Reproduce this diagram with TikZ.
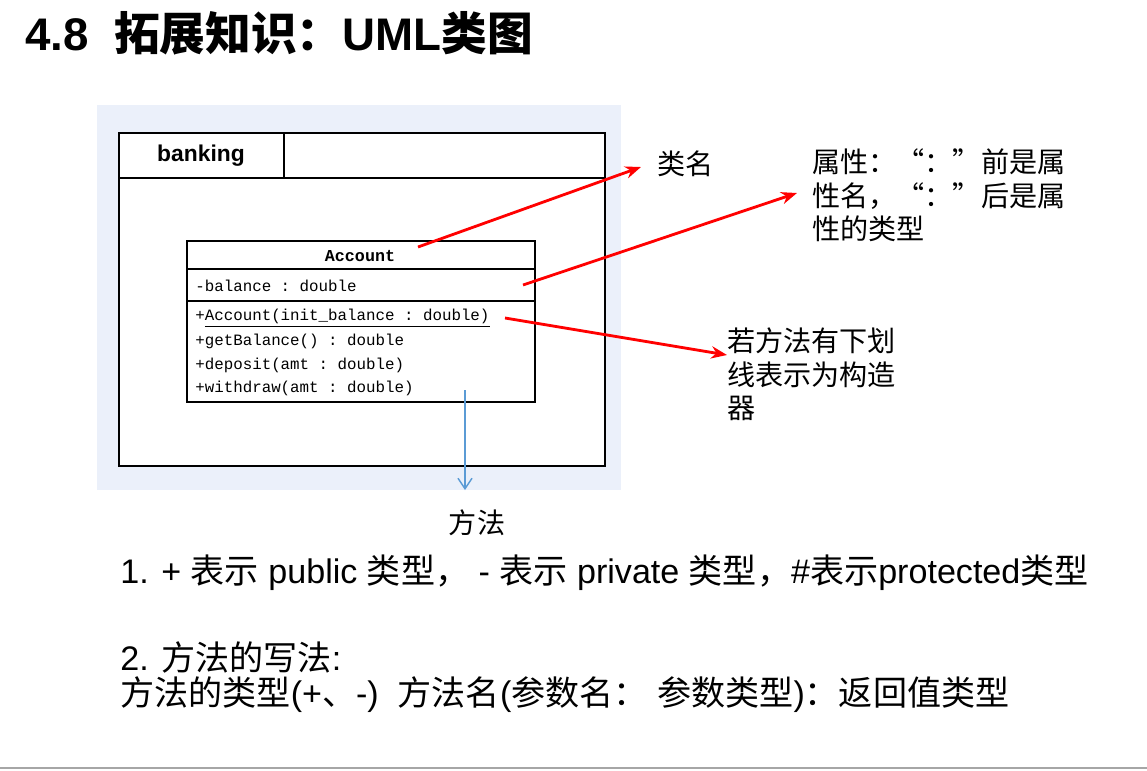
\documentclass[tikz,border=0pt]{standalone}
\usepackage{fontspec}
\setmainfont{Liberation Sans}
\setmonofont{Liberation Mono}
\newfontfamily\cjk{Noto Sans CJK SC}
\usetikzlibrary{arrows.meta}
\definecolor{panelbg}{HTML}{EBF0FA}
\definecolor{methblue}{HTML}{5B9BD5}
\newcommand{\zh}[1]{{\cjk #1}}
\tikzset{
  redarrow/.style={draw=red, line width=1.6pt, -{Stealth[length=9pt,width=7pt]}},
  bluearrow/.style={draw=methblue, line width=0.8pt, -{Straight Barb[length=6pt,width=8pt]}},
  umltext/.style={font=\ttfamily\fontsize{9}{11}\selectfont, anchor=west, inner sep=0pt},
  note/.style={font=\cjk\fontsize{16}{19.3}\selectfont, align=left, anchor=north west, inner sep=0pt},
  body/.style={font=\fontsize{19.4}{22}\selectfont, anchor=west, inner sep=0pt}
}
\begin{document}
\begin{tikzpicture}[x=0.02cm,y=-0.02cm]
  \useasboundingbox (0,0) rectangle (1147,771);
  % Titel
  \node[anchor=west, inner sep=0pt, font=\bfseries\fontsize{26}{28}\selectfont] (title) at (25,33) {4.8\ \ \zh{拓展知识：}UML\zh{类图}};
  % Hintergrund und Paket
  \fill[panelbg] (97,105) rectangle (621,490);
  \draw[fill=white, line width=0.8pt] (119,133) rectangle (605,466);
  \draw[line width=0.8pt] (119,178) -- (605,178) (284,133) -- (284,178);
  \node[font=\bfseries\fontsize{13}{15}\selectfont] (pkg) at (201,156) {banking};
  % Klasse
  \draw[fill=white, line width=0.8pt] (187,241) rectangle (535,402);
  \draw[line width=0.8pt] (187,269) -- (535,269) (187,301) -- (535,301);
  \node[font=\ttfamily\bfseries\fontsize{9.5}{11}\selectfont] (cname) at (360,256) {Account};
  \node[umltext] (attr) at (195,286) {-balance : double};
  \node[umltext] (m1) at (195,318) {+\underline{Account(init\_balance : double)}};
  \node[umltext] (m2) at (195,341) {+getBalance() : double};
  \node[umltext] (m3) at (195,365) {+deposit(amt : double)};
  \node[umltext] (m4) at (195,388) {+withdraw(amt : double)};
  % Erklaerungen
  \node[anchor=west, inner sep=0pt, font=\cjk\fontsize{16}{18}\selectfont] (lname) at (657,164) {类名};
  \node[note] (lattr) at (812,148) {属性：“：”前是属\\性名，“：”后是属\\性的类型};
  \node[note] (lctor) at (727,327) {若方法有下划\\线表示为构造\\器};
  \node[inner sep=0pt, font=\cjk\fontsize{16}{18}\selectfont] (lmeth) at (477,523) {方法};
  \coordinate (c1) at (418,247);
  \coordinate (c2) at (523,285);
  \coordinate (c3) at (505,318);
  \coordinate (c4) at (465,390);
  \draw[redarrow] (c1) -- (641,167);
  \draw[redarrow] (c2) -- (797,193);
  \draw[redarrow] (c3) -- (lctor.west |- 0,355);
  \draw[bluearrow] (c4) -- (465,490);
  % Text unten
  \node[body] (t1) at (120,573) {1. + \zh{表示} public \zh{类型，} - \zh{表示} private \zh{类型，}\#\zh{表示}protected\zh{类型}};
  \node[body] (t2) at (120,657) {2. \zh{方法的写法}:};
  \node[body] (t3) at (120,695) {\zh{方法的类型}(+\zh{、}-)\ \ \zh{方法名}(\zh{参数名：} \zh{参数类型})\zh{：返回值类型}};
  \draw[gray!70, line width=1pt] (0,768) -- (1147,768);
\end{tikzpicture}
\end{document}
